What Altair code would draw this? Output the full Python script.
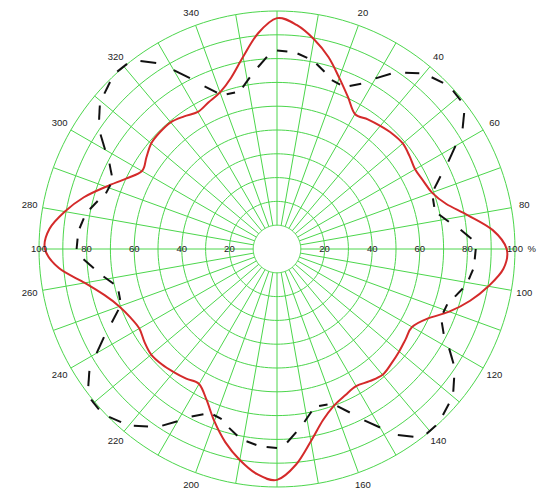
import altair as alt
import pandas as pd

# ---------------- data ----------------
ring_radii = [10, 20, 30, 40, 50, 60, 70, 80, 90, 100]
ring_angles = list(range(0, 362, 2))
spoke_angles = list(range(0, 360, 10))
spoke_ends = [10, 100]

red_angles = list(range(0, 360, 5))
red_values = [
    97, 94.5, 89.5, 83.5, 76.5, 70.5, 65.5, 66.5, 67.5, 68.5, 69, 68, 67, 67.8, 69.3, 73.5, 81.5, 91,
    96.5, 95.5, 90.2, 84, 77, 69.5, 65.5, 66, 67, 68, 69, 67.8, 66.5, 67.8, 70, 74.5, 82, 91,
    97, 95, 90, 84, 77, 70, 65.5, 66.5, 67.5, 68.5, 69, 68, 66.8, 68, 70.5, 75, 82, 92,
    97.5, 96, 90.5, 84, 76.5, 70, 65.5, 67, 69, 69.5, 69.5, 68, 66.5, 68, 70, 74.5, 82, 91,
]

black_angles = list(range(0, 360, 3))
black_values = [
    83.4, 83.1, 82.6, 81.3, 79.6, 77.1, 74.6, 74.0, 75.0, 77.9, 82.8, 87.8, 91.6, 95.0, 97.1,
    98.7, 99.5, 99.3, 97.2, 93.0, 86.6, 80.8, 75.2, 70.8, 68.9, 68.4, 69.6, 73.1, 77.6, 81.8,
    83.5, 83.2, 82.8, 81.6, 79.8, 77.4, 75.2, 74.8, 75.8, 78.6, 83.5, 88.4, 92.0, 95.3, 97.2,
    98.6, 99.8, 99.9, 97.5, 93.2, 86.6, 80.8, 75.2, 70.7, 68.7, 68.3, 69.8, 73.6, 77.4, 81.4,
    83.6, 83.3, 82.8, 81.8, 80.2, 77.8, 75.2, 74.6, 76.0, 79.0, 83.6, 88.5, 92.2, 95.6, 97.9,
    99.8, 100.7, 100.5, 98.0, 94.0, 87.5, 81.6, 76.0, 71.4, 69.3, 68.9, 70.2, 73.8, 77.4, 81.4,
    84.2, 83.9, 83.4, 82.2, 80.4, 78.0, 75.6, 75.0, 76.0, 79.0, 83.4, 88.4, 92.4, 95.8, 97.6,
    99.2, 100.3, 100.1, 97.6, 93.2, 86.8, 80.6, 74.8, 70.4, 68.4, 68.1, 69.4, 73.0, 76.8, 80.8,
]

radial_label_values = [20, 40, 60, 80, 100]
angle_label_values = [20, 40, 60, 80, 100, 120, 140, 160, 200, 220, 240, 260, 280, 300, 320, 340]
angle_label_radius = 105.5
unit_label = "%"
unit_label_radius = 107

# ---------------- tables ----------------
rings = pd.DataFrame([{"ring": r, "a": a, "r": r} for r in ring_radii for a in ring_angles])
spokes = pd.DataFrame([{"spoke": s, "a": s, "r": e} for s in spoke_angles for e in spoke_ends])
red = pd.DataFrame({"a": red_angles, "r": red_values})
black = pd.DataFrame({"a": black_angles, "r": black_values,
                      "dash": [i // 2 for i in range(len(black_angles))]})
rlabels = pd.DataFrame(
    [{"a": 90, "r": v, "t": str(v)} for v in radial_label_values]
    + [{"a": 270, "r": v, "t": str(v)} for v in radial_label_values]
    + [{"a": 90, "r": unit_label_radius, "t": unit_label}]
)
alabels = pd.DataFrame({"a": angle_label_values,
                        "r": [angle_label_radius] * len(angle_label_values),
                        "t": [str(v) for v in angle_label_values]})

# ---------------- scales ----------------
W, H = 538, 482
K = 2.38  # px per unit
xdom = [-(W / 2) / K, (W / 2) / K]
ydom = [-(H / 2) / K, (H / 2) / K]

X = alt.X("px:Q", scale=alt.Scale(domain=xdom, nice=False, zero=False), axis=None)
Y = alt.Y("py:Q", scale=alt.Scale(domain=ydom, nice=False, zero=False), axis=None)


def polar(ch):
    return ch.transform_calculate(
        px="datum.r * sin(datum.a * PI / 180)",
        py="datum.r * cos(datum.a * PI / 180)",
    )


GREEN = "#4cd64c"

ring_layer = polar(alt.Chart(rings).mark_line(color=GREEN, strokeWidth=1)).encode(
    x=X, y=Y, detail="ring:N", order="a:Q")
spoke_layer = polar(alt.Chart(spokes).mark_line(color=GREEN, strokeWidth=1)).encode(
    x=X, y=Y, detail="spoke:N", order="r:Q")
red_layer = polar(alt.Chart(red).mark_line(color="#d42a2a", strokeWidth=2,
                                           interpolate="cardinal-closed")).encode(
    x=X, y=Y, order="a:Q")
black_layer = polar(alt.Chart(black).mark_line(color="#111111", strokeWidth=2,
                                               strokeCap="butt")).encode(
    x=X, y=Y, detail="dash:N", order="a:Q")
rlabel_layer = polar(alt.Chart(rlabels).mark_text(
    font="Liberation Sans", fontSize=9.5, color="#222222",
    align="center", baseline="middle")).encode(x=X, y=Y, text="t:N")
alabel_layer = polar(alt.Chart(alabels).mark_text(
    font="Liberation Sans", fontSize=9.5, color="#222222",
    align="center", baseline="middle")).encode(x=X, y=Y, text="t:N")

chart = alt.layer(
    ring_layer, spoke_layer, red_layer, black_layer, rlabel_layer, alabel_layer
).properties(
    width=W, height=H, padding=0, autosize=alt.AutoSizeParams(type="none"),
    background="white",
).configure_view(strokeWidth=0)

chart.save("out.html", embed_options={"renderer": "svg", "actions": False})
